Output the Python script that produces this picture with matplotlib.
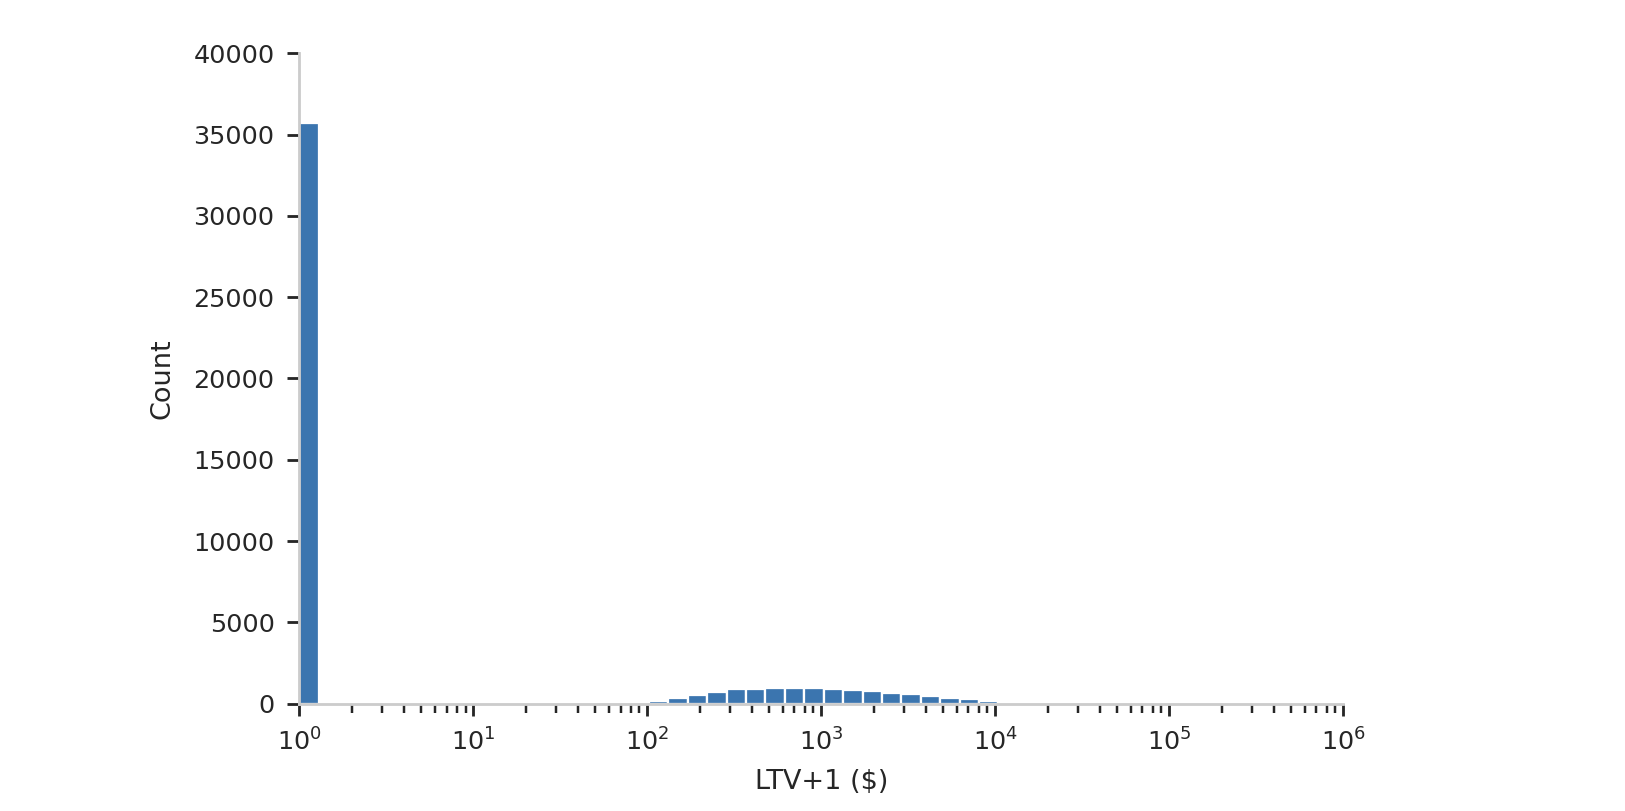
import numpy as np
import matplotlib
matplotlib.use("Agg")
import matplotlib.pyplot as plt

# histogram of log10(LTV+1), equal-width bins in log space
bin_width_log = 0.1116
counts = [35730, 0, 0, 0, 0, 0, 0, 0, 0, 0,
          0, 0, 0, 0, 0, 0, 0, 0, 165, 355,
          530, 740, 905, 905, 985, 965, 985, 905, 840, 780,
          675, 600, 475, 350, 270, 165, 100]

n_bins = len(counts)
edges = 10 ** (np.arange(n_bins + 1) * bin_width_log)

plt.rcParams['font.family'] = 'DejaVu Sans'

fig = plt.figure(figsize=(10, 811 / 162.5), dpi=162.5)
ax = fig.add_axes([0.1843, 0.1323, 0.6424, 0.802])

ax.hist(edges[:-1], bins=edges, weights=counts, color='#3b75af',
        edgecolor='white', linewidth=1.0)

ax.set_xscale('log')
ax.set_xlim(1, 1e6)
ax.set_ylim(0, 40000)
ax.set_yticks(np.arange(0, 40001, 5000))

for side in ['top', 'right']:
    ax.spines[side].set_visible(False)
for side in ['left', 'bottom']:
    ax.spines[side].set_color('#cccccc')
    ax.spines[side].set_linewidth(1.25)

ax.tick_params(axis='both', which='major', length=5.5, width=1.25,
               color='#262626', labelsize=11.3, labelcolor='#262626', pad=5.5)
ax.tick_params(axis='x', which='minor', length=4, width=1.1, color='#262626')
ax.tick_params(axis='y', which='minor', left=False)

ax.set_xlabel('LTV+1 ($)', fontsize=12, color='#262626', labelpad=6)
ax.set_ylabel('Count', fontsize=12, color='#262626', labelpad=8)

fig.savefig('out.png', dpi=162.5)
